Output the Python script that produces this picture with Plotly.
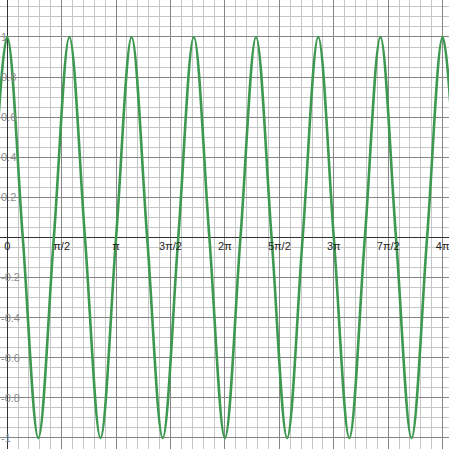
import plotly.graph_objects as go

# key points of the curve: crests, zero crossings, troughs
x_pts = [-0.449, 0.0, 0.449, 0.898, 1.346, 1.795, 2.244, 2.693, 3.142,
         3.590, 4.039, 4.488, 4.937, 5.386, 5.834, 6.283, 6.732, 7.181,
         7.630, 8.078, 8.527, 8.976, 9.425, 9.874, 10.322, 10.771, 11.220,
         11.669, 12.118, 12.566, 13.015]
y_pts = [0, 1, 0, -1, 0, 1, 0, -1, 0,
         1, 0, -1, 0, 1, 0, -1, 0, 1,
         0, -1, 0, 1, 0, -1, 0, 1, 0,
         -1, 0, 1, 0]

x_tickvals = [0, 1.5708, 3.1416, 4.7124, 6.2832, 7.8540, 9.4248, 10.9956, 12.5664]
x_ticktext = ["0", "π/2", "π", "3π/2", "2π", "5π/2", "3π", "7π/2", "4π"]
y_tickvals = [1, 0.8, 0.6, 0.4, 0.2, -0.2, -0.4, -0.6, -0.8, -1]
y_ticktext = ["1", "0.8", "0.6", "0.4", "0.2", "-0.2", "-0.4", "-0.6", "-0.8", "-1"]

fig = go.Figure()
fig.add_trace(go.Scatter(
    x=x_pts, y=y_pts, mode="lines",
    line=dict(color="#3d9850", width=2.6, shape="spline", smoothing=1.0),
    hoverinfo="skip", showlegend=False,
))

fig.update_layout(
    width=449, height=449,
    margin=dict(l=0, r=0, t=0, b=0),
    plot_bgcolor="white", paper_bgcolor="white",
    font=dict(family="Liberation Sans, Arial", size=11),
    xaxis=dict(
        range=[-0.208, 12.750],
        tickmode="array", tickvals=x_tickvals, ticktext=x_ticktext,
        tickfont=dict(color="#222"), ticklabeloverflow="allow",
        showgrid=True, gridcolor="#858585", gridwidth=1,
        minor=dict(tickmode="linear", tick0=0, dtick=0.314159,
                   showgrid=True, gridcolor="#c6c6c6", gridwidth=1),
        zeroline=True, zerolinecolor="#333", zerolinewidth=1.4,
        anchor="free", position=0.471, ticks="",
        showline=False, fixedrange=True, automargin=False,
    ),
    yaxis=dict(
        range=[-1.0549, 1.1845],
        tickmode="array", tickvals=y_tickvals, ticktext=y_ticktext,
        tickfont=dict(color="#8c8c8c"), ticklabeloverflow="allow",
        ticklabelstandoff=-3,
        showgrid=True, gridcolor="#858585", gridwidth=1,
        minor=dict(tickmode="linear", tick0=0, dtick=0.05,
                   showgrid=True, gridcolor="#c6c6c6", gridwidth=1),
        zeroline=True, zerolinecolor="#333", zerolinewidth=1.4,
        anchor="free", position=0, ticks="", ticklabelposition="inside",
        showline=False, fixedrange=True, automargin=False,
    ),
)

fig.write_html("out.html", config={"displayModeBar": False},
               post_script="document.body.style.margin='0';")
